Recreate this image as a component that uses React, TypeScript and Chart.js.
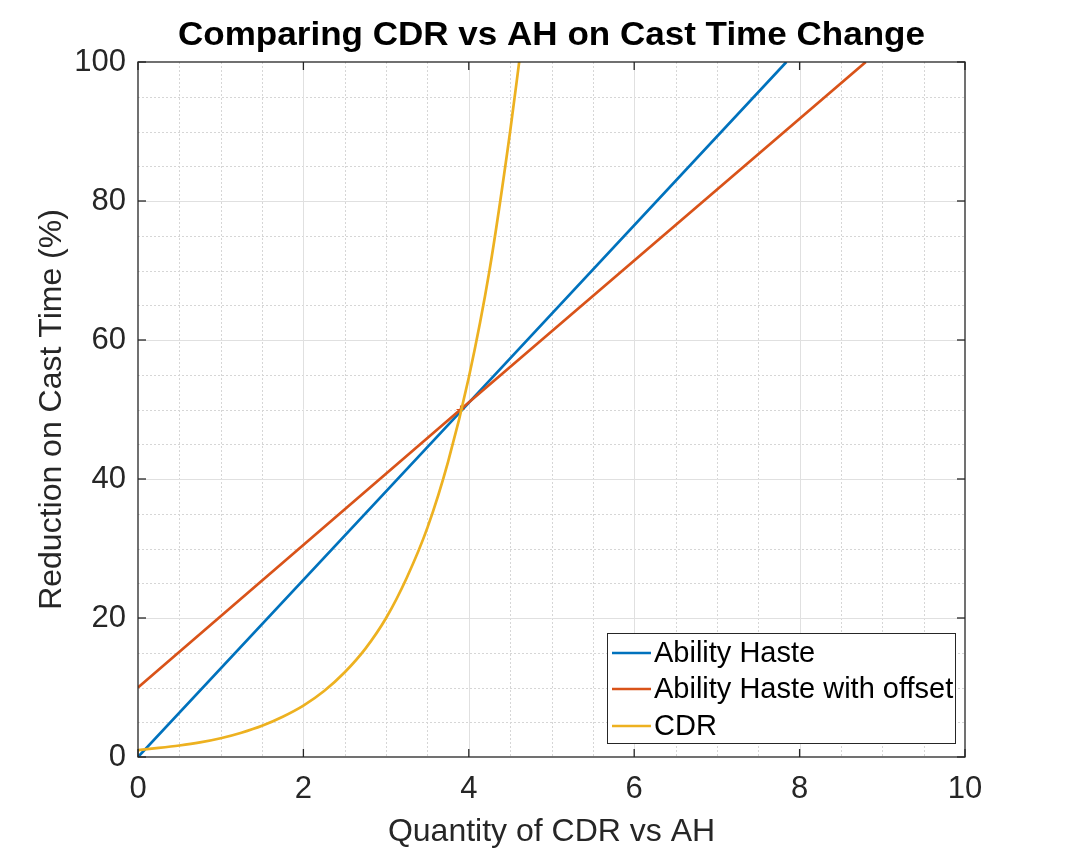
import React, { useEffect, useRef } from "react";
import { Chart, registerables } from "chart.js";

Chart.register(...registerables);

const TITLE = "Comparing CDR vs AH on Cast Time Change";
const X_TITLE = "Quantity of CDR vs AH";
const Y_TITLE = "Reduction on Cast Time (%)";
const SERIES_LABELS = ["Ability Haste", "Ability Haste with offset", "CDR"];
const SERIES_COLORS = ["#0072BD", "#D95319", "#EDB120"];

// x, y pairs
const HASTE_X = [0, 3.9, 7.84];
const HASTE_Y = [0, 49.7, 100];
const OFFSET_X = [0, 3.9, 8.8];
const OFFSET_Y = [10, 50, 100];
const CDR_X = [0, 0.25, 0.5, 0.75, 1, 1.25, 1.5, 1.75, 2, 2.25, 2.5, 2.75, 3, 3.25, 3.5, 3.75, 4, 4.25, 4.5, 4.62];
const CDR_Y = [1, 1.3, 1.65, 2.1, 2.7, 3.5, 4.5, 5.8, 7.4, 9.5, 12.2, 15.6, 20, 25.8, 33, 42.5, 54.6, 70, 90, 101];
const MARK_X = [3.9];
const MARK_Y = [50];

const X_TICKS = [0, 2, 4, 6, 8, 10];
const Y_TICKS = [0, 20, 40, 60, 80, 100];

const FONT = "'Liberation Sans', Arial, Helvetica, sans-serif";
const TITLE_FONT = "'Liberation Sans Narrow', 'Arial Narrow', 'Liberation Sans', Arial, sans-serif";
const INK = "#262626";

const pts = (xs: number[], ys: number[]) => xs.map((x, i) => ({ x, y: ys[i] }));

const framePlugin = {
  id: "matlabFrame",
  beforeDatasetsDraw(chart: any) {
    const { ctx, chartArea: a, scales } = chart;
    const xs = scales.x, ys = scales.y;
    ctx.save();
    ctx.lineWidth = 1;
    // minor dotted grid
    ctx.strokeStyle = "#d6d6d6";
    ctx.setLineDash([2, 2]);
    for (let v = 0.5; v < 10; v += 0.5) {
      if (Math.abs(v / 2 - Math.round(v / 2)) < 1e-6) continue;
      const px = Math.round(xs.getPixelForValue(v)) + 0.5;
      ctx.beginPath(); ctx.moveTo(px, a.top); ctx.lineTo(px, a.bottom); ctx.stroke();
    }
    for (let v = 5; v < 100; v += 5) {
      if (v % 20 === 0) continue;
      const py = Math.round(ys.getPixelForValue(v)) + 0.5;
      ctx.beginPath(); ctx.moveTo(a.left, py); ctx.lineTo(a.right, py); ctx.stroke();
    }
    // major grid
    ctx.setLineDash([]);
    ctx.strokeStyle = "#e0e0e0";
    X_TICKS.slice(1, -1).forEach((v) => {
      const px = Math.round(xs.getPixelForValue(v)) + 0.5;
      ctx.beginPath(); ctx.moveTo(px, a.top); ctx.lineTo(px, a.bottom); ctx.stroke();
    });
    Y_TICKS.slice(1, -1).forEach((v) => {
      const py = Math.round(ys.getPixelForValue(v)) + 0.5;
      ctx.beginPath(); ctx.moveTo(a.left, py); ctx.lineTo(a.right, py); ctx.stroke();
    });
    ctx.restore();
  },
  afterDatasetsDraw(chart: any) {
    const { ctx, chartArea: a, scales } = chart;
    const xs = scales.x, ys = scales.y;
    ctx.save();
    ctx.strokeStyle = INK;
    ctx.lineWidth = 1.3;
    ctx.strokeRect(a.left, a.top, a.right - a.left, a.bottom - a.top);
    const tl = 8;
    X_TICKS.forEach((v) => {
      const px = xs.getPixelForValue(v);
      ctx.beginPath(); ctx.moveTo(px, a.bottom); ctx.lineTo(px, a.bottom - tl); ctx.stroke();
      ctx.beginPath(); ctx.moveTo(px, a.top); ctx.lineTo(px, a.top + tl); ctx.stroke();
    });
    Y_TICKS.forEach((v) => {
      const py = ys.getPixelForValue(v);
      ctx.beginPath(); ctx.moveTo(a.left, py); ctx.lineTo(a.left + tl, py); ctx.stroke();
      ctx.beginPath(); ctx.moveTo(a.right, py); ctx.lineTo(a.right - tl, py); ctx.stroke();
    });

    // legend
    const bx = 607, by = 633, bw = 348, bh = 110;
    ctx.fillStyle = "#ffffff";
    ctx.fillRect(bx, by, bw, bh);
    ctx.lineWidth = 1;
    ctx.strokeStyle = INK;
    ctx.strokeRect(bx + 0.5, by + 0.5, bw, bh);
    const rows = [653, 689, 726];
    ctx.font = `29px ${FONT}`;
    ctx.textBaseline = "middle";
    ctx.textAlign = "left";
    SERIES_LABELS.forEach((lab, i) => {
      ctx.strokeStyle = SERIES_COLORS[i];
      ctx.lineWidth = 2.6;
      ctx.beginPath(); ctx.moveTo(612, rows[i]); ctx.lineTo(651, rows[i]); ctx.stroke();
      ctx.fillStyle = "#000000";
      ctx.fillText(lab, 654, rows[i] + 1);
    });

    // title
    ctx.font = `bold 34px ${TITLE_FONT}`;
    ctx.fillStyle = "#000000";
    ctx.textBaseline = "alphabetic";
    ctx.textAlign = "center";
    const w = ctx.measureText(TITLE).width;
    const target = 747;
    const cx = (a.left + a.right) / 2;
    ctx.translate(cx, 45);
    ctx.scale(target / w, 1);
    ctx.fillText(TITLE, 0, 0);
    ctx.restore();
  },
};

export default function App() {
  const ref = useRef<HTMLCanvasElement | null>(null);
  useEffect(() => {
    if (!ref.current) return;
    const chart = new Chart(ref.current, {
      type: "line",
      data: {
        datasets: [
          {
            label: SERIES_LABELS[0],
            data: pts(HASTE_X, HASTE_Y),
            borderColor: SERIES_COLORS[0],
            borderWidth: 2.7,
            pointRadius: 0,
            order: 4,
          },
          {
            label: SERIES_LABELS[1],
            data: pts(OFFSET_X, OFFSET_Y),
            borderColor: SERIES_COLORS[1],
            borderWidth: 2.7,
            pointRadius: 0,
            order: 3,
          },
          {
            label: "mark",
            data: pts(MARK_X, MARK_Y),
            borderColor: SERIES_COLORS[1],
            borderWidth: 1.2,
            showLine: false,
            pointStyle: "cross",
            pointRadius: 4,
            order: 2,
          },
          {
            label: SERIES_LABELS[2],
            data: pts(CDR_X, CDR_Y),
            borderColor: SERIES_COLORS[2],
            borderWidth: 2.7,
            pointRadius: 0,
            cubicInterpolationMode: "monotone",
            order: 1,
          },
        ],
      },
      options: {
        animation: false,
        responsive: true,
        maintainAspectRatio: false,
        devicePixelRatio: 1,
        layout: { padding: { top: 62, right: 103, left: 0, bottom: 0 } },
        plugins: {
          legend: { display: false },
          title: { display: false },
          tooltip: { enabled: false },
        },
        scales: {
          x: {
            type: "linear",
            min: 0,
            max: 10,
            grid: { display: false },
            border: { display: false },
            afterFit: (s: any) => { s.height = 94; },
            afterBuildTicks: (s: any) => { s.ticks = X_TICKS.map((v) => ({ value: v })); },
            ticks: {
              color: INK,
              font: { family: FONT, size: 31 },
              padding: 6,
              maxRotation: 0,
              callback: (v: any) => String(v),
            },
            title: {
              display: true,
              text: X_TITLE,
              color: INK,
              font: { family: FONT, size: 32 },
              padding: { top: 0, bottom: 0 },
            },
          },
          y: {
            type: "linear",
            min: 0,
            max: 100,
            grid: { display: false },
            border: { display: false },
            afterFit: (s: any) => { s.width = 138; },
            afterBuildTicks: (s: any) => { s.ticks = Y_TICKS.map((v) => ({ value: v })); },
            ticks: {
              color: INK,
              font: { family: FONT, size: 31 },
              padding: 4,
              callback: (v: any) => String(v),
            },
            title: {
              display: true,
              text: Y_TITLE,
              color: INK,
              font: { family: FONT, size: 32 },
              padding: { top: 33, bottom: 0 },
            },
          },
        },
      },
      plugins: [framePlugin],
    });
    return () => chart.destroy();
  }, []);
  return (
    <div style={{ position: "fixed", left: 0, top: 0, width: 1068, height: 851, background: "#ffffff" }}>
      <canvas ref={ref} />
    </div>
  );
}
